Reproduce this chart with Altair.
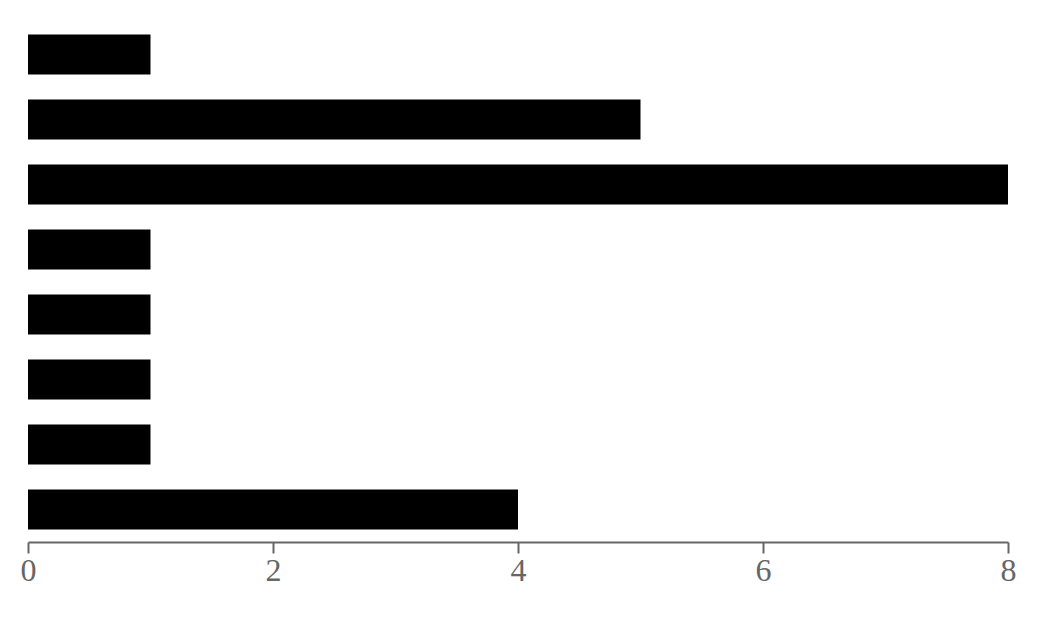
import altair as alt
import pandas as pd

# DATA -----------------------------------------------------------------------------------------------------
categories = ["a", "b", "c", "d", "e", "f", "g", "h"]
counts = [1, 5, 8, 1, 1, 1, 1, 4]
x_ticks = [0, 2, 4, 6, 8]

df = pd.DataFrame({"category": categories, "count": counts})

# CHART ----------------------------------------------------------------------------------------------------
chart = alt.Chart(df).mark_bar(color="black").encode(
    x=alt.X("count:Q",
            scale=alt.Scale(domain=[0, 8], nice=False),
            axis=alt.Axis(values=x_ticks, title=None, grid=False,
                          domainColor="#666666", domainWidth=2,
                          tickColor="#666666", tickWidth=2, tickSize=11,
                          labelColor="#666666", labelFont="Liberation Serif",
                          labelFontSize=32, labelPadding=2, labelFlush=False)),
    y=alt.Y("category:N", sort=categories,
            scale=alt.Scale(paddingInner=0.385, paddingOuter=0.192),
            axis=None),
).properties(
    width=980,
    height=520,
    autosize=alt.AutoSizeParams(type="none"),
    padding={"left": 20, "top": 14, "right": 30, "bottom": 60},
).configure_view(stroke=None)

chart.save("out.html", embed_options={"renderer": "svg", "actions": False})
